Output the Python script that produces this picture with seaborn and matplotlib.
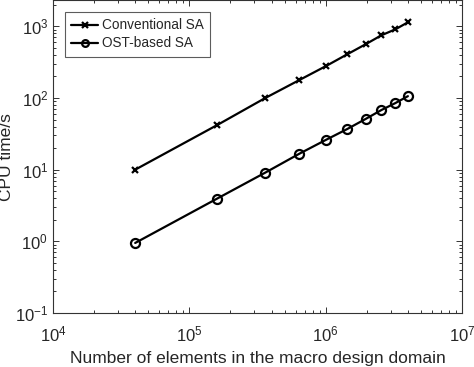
import matplotlib
matplotlib.use("Agg")
import matplotlib.pyplot as plt
import seaborn as sns
import pandas as pd

# number of elements (200^2 ... 2000^2)
elements = [4e4, 1.6e5, 3.6e5, 6.4e5, 1e6, 1.44e6, 1.96e6, 2.56e6, 3.24e6, 4e6]
conventional_sa = [10, 42, 100, 178, 278, 408, 562, 750, 908, 1137]
ost_sa = [0.95, 3.96, 9.1, 16.7, 26, 37, 51, 68, 85, 106]

sns.set_style("ticks")
plt.rcParams["font.family"] = ["Liberation Sans", "DejaVu Sans"]
plt.rcParams["xtick.direction"] = "in"
plt.rcParams["ytick.direction"] = "in"

df = pd.DataFrame({"elements": elements, "conv": conventional_sa, "ost": ost_sa})

fig = plt.figure(figsize=(4.74, 3.67), dpi=100)
ax = fig.add_axes([0.112, 0.147, 0.863, 0.852])

sns.lineplot(data=df, x="elements", y="conv", ax=ax, color="black", lw=1.6,
             marker="x", markersize=5, markeredgewidth=1.6, markeredgecolor="black",
             label="Conventional SA")
sns.lineplot(data=df, x="elements", y="ost", ax=ax, color="black", lw=1.6,
             marker="o", markersize=6.5, markerfacecolor="none", markeredgewidth=1.6,
             markeredgecolor="black", label="OST-based SA")

ax.set_xscale("log")
ax.set_yscale("log")
ax.set_xlim(1e4, 1e7)
ax.set_ylim(1e-1, 2.3e3)

ax.set_xlabel("Number of elements in the macro design domain", fontsize=12.5,
              color="#262626", labelpad=5)
ax.set_ylabel("CPU time/s", fontsize=12.5, color="#262626")
ax.yaxis.set_label_coords(-0.095, 0.5)
ax.tick_params(which="both", top=True, right=True, labelsize=12, width=0.7,
               color="#333333", labelcolor="#262626")
ax.tick_params(axis="x", which="major", pad=8)
ax.tick_params(which="major", length=4)
ax.tick_params(which="minor", length=2)
for s in ax.spines.values():
    s.set_linewidth(0.8)
    s.set_color("#333333")

leg = ax.legend(loc="upper left", fontsize=9.8, frameon=True, fancybox=False,
                edgecolor="#333333", handlelength=2.0, borderpad=0.45,
                labelspacing=0.3, handletextpad=0.3, borderaxespad=0,
                markerscale=0.75, bbox_to_anchor=(0.029, 0.962))
leg.get_frame().set_linewidth(0.8)

fig.savefig("out.png", dpi=100)
